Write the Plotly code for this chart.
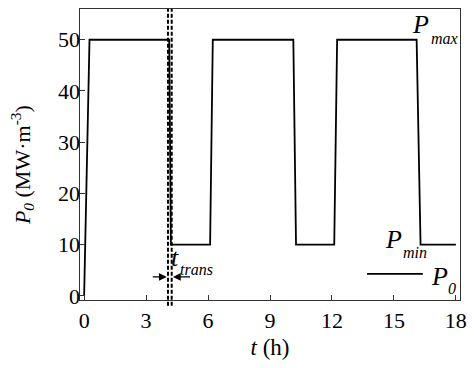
import plotly.graph_objects as go

# Data
t_h = [0, 0.26, 4.12, 4.2, 6.1, 6.23, 10.13, 10.26, 12.11, 12.25, 16.1, 16.29, 18.0]
p0 = [0, 50, 50, 10, 10, 50, 50, 10, 10, 50, 50, 10, 10]
trans_lines = [4.06, 4.24]
x_ticks = [0, 3, 6, 9, 12, 15, 18]
y_ticks = [0, 10, 20, 30, 40, 50]
y_range = [-0.8, 56]
y_title = "<i>P<sub>0</sub></i> (MW·m<sup>-3</sup>)"

FONT = "Times New Roman, Liberation Serif, DejaVu Serif, serif"

fig = go.Figure()
fig.add_trace(go.Scatter(x=t_h, y=p0, mode="lines",
                         line=dict(color="black", width=1.8),
                         showlegend=False))
# invisible carrier so the tick-label axis is drawn
fig.add_trace(go.Scatter(x=t_h, y=p0, mode="lines", yaxis="y2",
                         line=dict(color="rgba(0,0,0,0)", width=0),
                         hoverinfo="skip", showlegend=False))

for xv in trans_lines:
    fig.add_shape(type="line", x0=xv, x1=xv, y0=-0.02, y1=1, xref="x", yref="paper",
                  line=dict(color="black", width=2, dash="4px,2px"))

# legend sample
fig.add_shape(type="line", x0=13.7, x1=16.4, y0=4.3, y1=4.3, xref="x", yref="y",
              line=dict(color="black", width=1.8))

ann = [
    dict(x=16.3, y=52.9, text="<i>P</i>", size=26),
    dict(x=17.45, y=50.2, text="<i>max</i>", size=16),
    dict(x=15.0, y=11.0, text="<i>P</i>", size=26),
    dict(x=16.0, y=8.4, text="<i>min</i>", size=16),
    dict(x=17.2, y=3.8, text="<i>P</i>", size=26),
    dict(x=17.8, y=1.5, text="<i>0</i>", size=16),
    dict(x=4.4, y=7.4, text="<i>t</i>", size=26),
    dict(x=5.45, y=5.2, text="<i>trans</i>", size=16),
]
for a in ann:
    fig.add_annotation(x=a["x"], y=a["y"], text=a["text"], showarrow=False,
                       font=dict(family=FONT, size=a["size"], color="black"),
                       xanchor="center", yanchor="middle")

# y-axis title
fig.add_annotation(x=-0.153, y=25.5, xref="paper", yref="y", text=y_title,
                   textangle=-90, showarrow=False, xanchor="center", yanchor="middle",
                   font=dict(family=FONT, size=22, color="black"))

# t_trans arrows
fig.add_annotation(x=4.0, y=3.7, ax=3.25, ay=3.7, xref="x", yref="y", axref="x", ayref="y",
                   text="", showarrow=True, arrowhead=2, arrowsize=1.2, arrowwidth=1.3,
                   arrowcolor="black")
fig.add_annotation(x=4.3, y=3.7, ax=5.2, ay=3.7, xref="x", yref="y", axref="x", ayref="y",
                   text="", showarrow=True, arrowhead=2, arrowsize=1.2, arrowwidth=1.3,
                   arrowcolor="black")

fig.update_xaxes(range=[-0.2, 18.2], tickvals=x_ticks, ticks="inside", ticklen=5,
                 tickwidth=1.2, tickcolor="#333", showline=True, linecolor="#333",
                 linewidth=1.2, mirror=True, showgrid=False, zeroline=False,
                 automargin=False,
                 tickfont=dict(family=FONT, size=22, color="black"),
                 title=dict(text="<i>t</i> (h)", font=dict(family=FONT, size=23, color="black"),
                            standoff=7))
fig.update_layout(
    yaxis=dict(range=y_range, tickvals=y_ticks, ticks="inside", ticklen=5,
               tickwidth=1.2, tickcolor="#333", showline=True, linecolor="#333",
               linewidth=1.2, mirror=True, showgrid=False, zeroline=False,
               automargin=False, showticklabels=False),
    # tick-label carrier without tick marks so labels sit close to the axis
    yaxis2=dict(range=y_range, tickvals=y_ticks, overlaying="y", anchor="free",
                position=0, side="left", ticks="", showline=False,
                showgrid=False, zeroline=False, automargin=False,
                tickfont=dict(family=FONT, size=22, color="black")),
)

fig.update_layout(width=474, height=368, margin=dict(l=80, r=14, t=9, b=68),
                  plot_bgcolor="white", paper_bgcolor="white",
                  font=dict(family=FONT))

fig.write_html("out.html", config={"displayModeBar": False},
               post_script="document.body.style.margin='0';")
